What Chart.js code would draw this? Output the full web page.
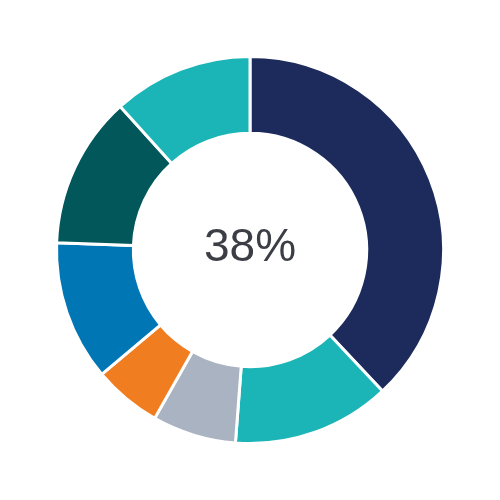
<!DOCTYPE html>
<html>
<head>
<meta charset="utf-8">
<script src="https://cdn.jsdelivr.net/npm/chart.js@4.4.0/dist/chart.umd.min.js"></script>
<style>
  html, body { margin: 0; padding: 0; background: #fff; }
  #wrap { width: 500px; height: 500px; }
</style>
</head>
<body>
<div id="wrap"><canvas id="donut"></canvas></div>
<script>
const labels = ['A', 'B', 'C', 'D', 'E', 'F', 'G'];
const values = [38.0, 13.2, 7.0, 5.7, 11.7, 12.7, 11.7];
const colors = ['#1c2b5b', '#1bb5b7', '#a9b3c1', '#f07e21', '#0076b5', '#02575a', '#1bb5b7'];
const centerLabel = '38%';

const centerText = {
    id: 'centerText',
    afterDraw(chart) {
        const { ctx } = chart;
        const arc = chart.getDatasetMeta(0).data[0];
        ctx.save();
        ctx.font = '46px "Liberation Sans", Arial, sans-serif';
        ctx.fillStyle = '#3b3e45';
        ctx.textAlign = 'center';
        ctx.textBaseline = 'middle';
        ctx.fillText(centerLabel, arc.x, arc.y - 2);
        ctx.restore();
    }
};

new Chart(document.getElementById('donut'), {
    type: 'doughnut',
    data: {
        labels: labels,
        datasets: [{
            data: values,
            backgroundColor: colors,
            borderColor: '#ffffff',
            borderWidth: 3
        }]
    },
    options: {
        responsive: true,
        maintainAspectRatio: false,
        animation: false,
        cutout: '60.3%',
        layout: { padding: 55 },
        plugins: {
            legend: { display: false },
            tooltip: { enabled: false }
        }
    },
    plugins: [centerText]
});
</script>
</body>
</html>
